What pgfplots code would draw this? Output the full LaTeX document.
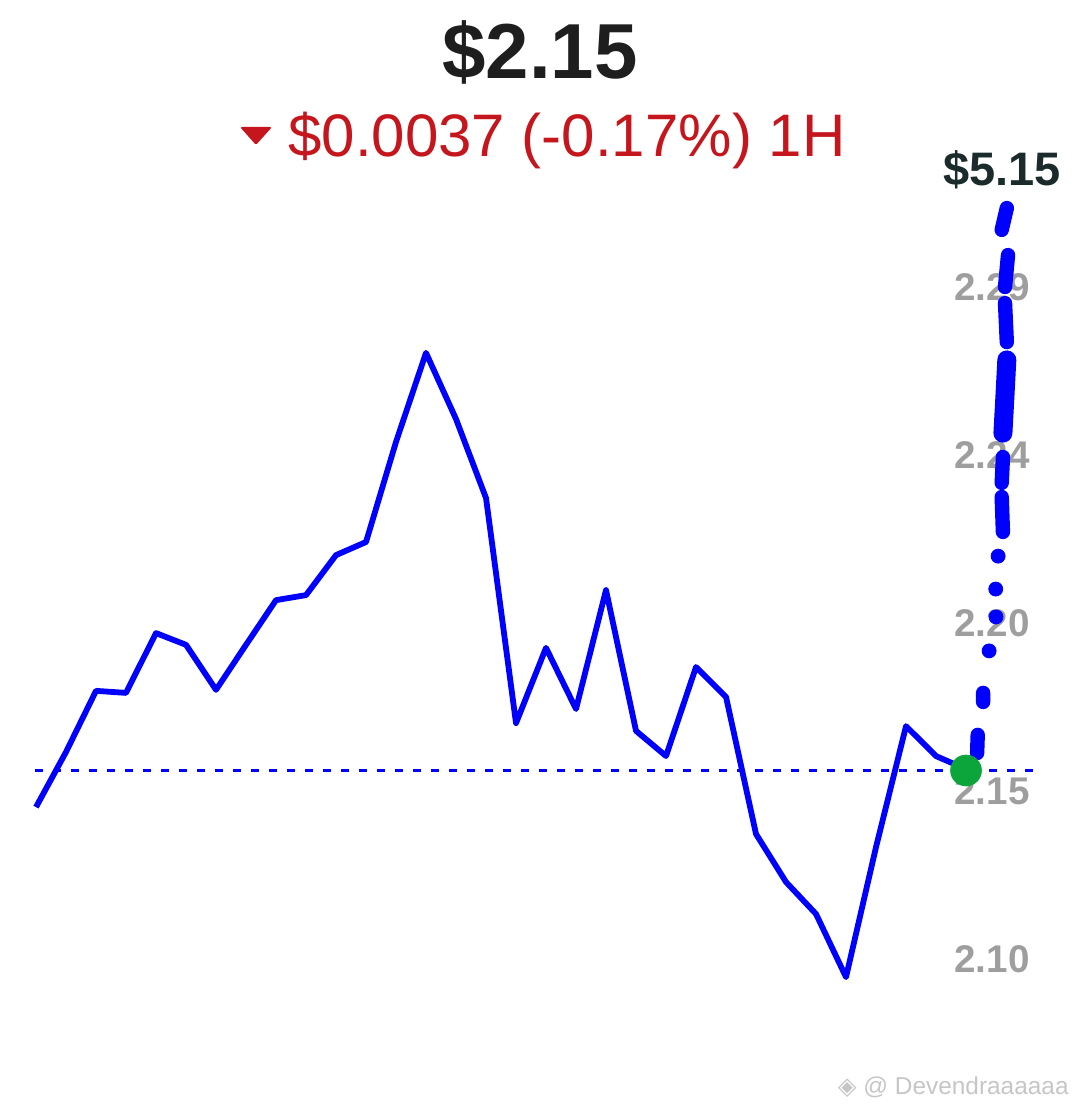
\documentclass[border=0pt]{standalone}
\usepackage{pgfplots}
\pgfplotsset{compat=1.18}
\usepackage{fontspec}
\setmainfont{Liberation Sans}
\newfontfamily\symfont{DejaVu Sans}

\definecolor{pricetxt}{HTML}{1E1E1E}
\definecolor{downred}{HTML}{C4161C}
\definecolor{ticgray}{HTML}{9E9E9E}
\definecolor{scrib}{HTML}{1B2A2A}
\definecolor{dotgreen}{HTML}{0BA53B}
\definecolor{wmgray}{HTML}{C6C6C6}

% tick labels below the plotted lines
\pgfplotsset{
  layers/belowplots/.define layer set={
    axis background,axis grid,axis ticks,axis tick labels,
    axis lines,main,axis descriptions,axis foreground}{},
}

\begin{document}
\begin{tikzpicture}
\begin{axis}[
  set layers=belowplots,
  scale only axis,
  width=540pt, height=555pt,
  xmin=-1.2, xmax=34.8,
  ymin=2.05506, ymax=2.38542,
  axis line style={draw=none},
  tick style={draw=none},
  xtick=\empty,
  ytick={2.10,2.15,2.20,2.25,2.30},
  yticklabels={2.10,2.15,2.20,2.24,2.29},
  yticklabel pos=right,
  yticklabel style={anchor=center, xshift=-44pt, text=ticgray,
    font=\bfseries\fontsize{19.3}{21}\selectfont},
  clip=false,
]
% price line (1H)
\addplot[color=blue, line width=2.9pt, line join=round] coordinates {
  (0,2.1452) (1,2.1616) (2,2.1798) (3,2.1792) (4,2.1970) (5,2.1935)
  (6,2.1801) (7,2.1935) (8,2.2068) (9,2.2083) (10,2.2202) (11,2.2241)
  (12,2.2539) (13,2.2804) (14,2.2607) (15,2.2372) (16,2.1702) (17,2.1926)
  (18,2.1744) (19,2.2098) (20,2.1679) (21,2.1604) (22,2.1869) (23,2.1780)
  (24,2.1372) (25,2.1229) (26,2.1134) (27,2.0946) (28,2.1333) (29,2.1693)
  (30,2.1604) (31,2.1565)
};
% current price level
\addplot[color=blue, line width=1.5pt, dash pattern=on 4pt off 5pt] coordinates {
  (-0.03,2.1561) (33.47,2.1561)
};
% hand drawn stroke up to the $5.15 mark
\addplot[color=blue, line width=7.2pt, line cap=round, unbounded coords=jump] coordinates {
  (32.36,2.3235) (32.19,2.3170) (32.19,nan)
  (32.40,2.3095) (32.30,2.3000) (32.30,nan)
  (32.30,2.2952) (32.36,2.2836) (32.36,nan)
  (32.23,2.2494) (32.19,2.2417) (32.19,nan)
  (32.19,2.2375) (32.23,2.2271) (32.23,nan)
  (31.57,2.1792) (31.57,2.1765) (31.57,nan)
  (31.39,2.1667) (31.37,2.1613)
};
\addplot[color=blue, line width=9.5pt, line cap=round] coordinates {
  (32.36,2.2783) (32.30,2.2680) (32.23,2.2565)
};
\addplot[only marks, mark=*, mark size=3.5pt, color=blue] coordinates {
  (32.07,2.2199) (31.99,2.2101) (32.00,2.2018) (31.77,2.1917)
};
% last price marker
\addplot[only marks, mark=*, mark size=7.7pt, color=dotgreen] coordinates {
  (31,2.1561)
};

% header
\node[anchor=base, text=pricetxt, font=\bfseries\fontsize{39}{44}\selectfont]
  at (rel axis cs:0.5,0.9297) {\$2.15};
\node[anchor=base, text=downred, font=\fontsize{30}{34}\selectfont]
  at (rel axis cs:0.525,0.8586) {\$0.0037 (-0.17\%) 1H};
\fill[downred, rounded corners=0.8pt]
  (rel axis cs:0.2222,0.8856) -- (rel axis cs:0.2519,0.8856)
  -- (rel axis cs:0.2370,0.8694) -- cycle;
\node[anchor=base, text=scrib, font=\bfseries\fontsize{23.5}{26}\selectfont]
  at (rel axis cs:0.9278,0.8333) {\$5.15};
% watermark
\node[anchor=base east, text=wmgray, font=\fontsize{12.2}{14}\selectfont]
  at (rel axis cs:0.996,0.0144) {{\symfont ◈} @ Devendraaaaaa};
\end{axis}
\end{tikzpicture}
\end{document}
